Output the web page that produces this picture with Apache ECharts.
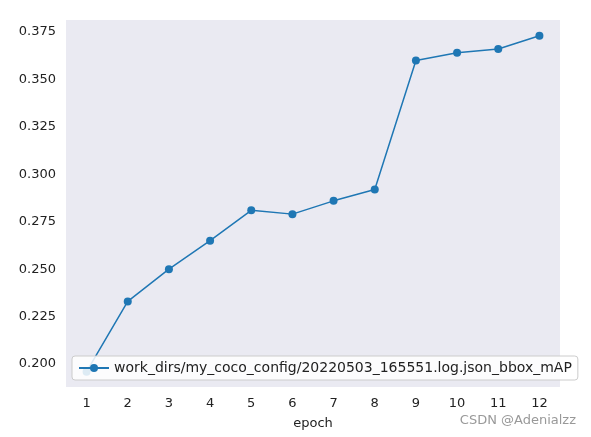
<!DOCTYPE html>
<html><head><meta charset="utf-8">
<script src="https://cdn.jsdelivr.net/npm/echarts@6/dist/echarts.min.js"></script>
<style>html,body{margin:0;background:#fff}#c{width:591px;height:437px}</style>
</head><body><div id="c"></div>
<script>
var epochs = ['1','2','3','4','5','6','7','8','9','10','11','12'];
var bboxMAP = [0.196, 0.233, 0.250, 0.265, 0.281, 0.279, 0.286, 0.292, 0.360, 0.364, 0.366, 0.373];
var yTicks = [0.200, 0.225, 0.250, 0.275, 0.300, 0.325, 0.350, 0.375];
var seriesName = 'work_dirs/my_coco_config/20220503_165551.log.json_bbox_mAP';
var font = 'DejaVu Sans';

var chart = echarts.init(document.getElementById('c'));
chart.setOption({
  animation: false,
  textStyle: {fontFamily: font},
  grid: {left: 66, right: 31, top: 20, bottom: 50, show: true, backgroundColor: '#EAEAF2', borderWidth: 0},
  xAxis: {
    type: 'category', data: epochs, boundaryGap: true, name: 'epoch',
    nameLocation: 'middle', nameGap: 30, nameTextStyle: {fontSize: 13, color: '#222'},
    axisLine: {show: false}, axisTick: {show: false},
    axisLabel: {fontSize: 13, color: '#222', margin: 10}
  },
  yAxis: {
    type: 'value', min: 0.1879, max: 0.3813,
    axisLine: {show: false}, axisTick: {show: false}, splitLine: {show: false},
    axisLabel: {customValues: yTicks, fontSize: 13, color: '#222', margin: 10,
      formatter: function (v) { return v.toFixed(3); }}
  },
  legend: {
    left: 72, top: 356, orient: 'vertical',
    backgroundColor: 'rgba(255,255,255,0.85)', borderColor: '#ccc', borderWidth: 1, borderRadius: 3,
    padding: [5, 6], itemWidth: 30, itemHeight: 10, itemGap: 8,
    textStyle: {fontSize: 14, color: '#222'},
    data: [seriesName]
  },
  series: [{
    name: seriesName, type: 'line', data: bboxMAP,
    symbol: 'circle', symbolSize: 8,
    lineStyle: {color: '#1f77b4', width: 1.5},
    itemStyle: {color: '#1f77b4'}
  }],
  graphic: [{type: 'text', right: 15, top: 414,
    style: {text: 'CSDN @Adenialzz', fill: '#999', fontSize: 13, fontFamily: font}}]
});
</script></body></html>
